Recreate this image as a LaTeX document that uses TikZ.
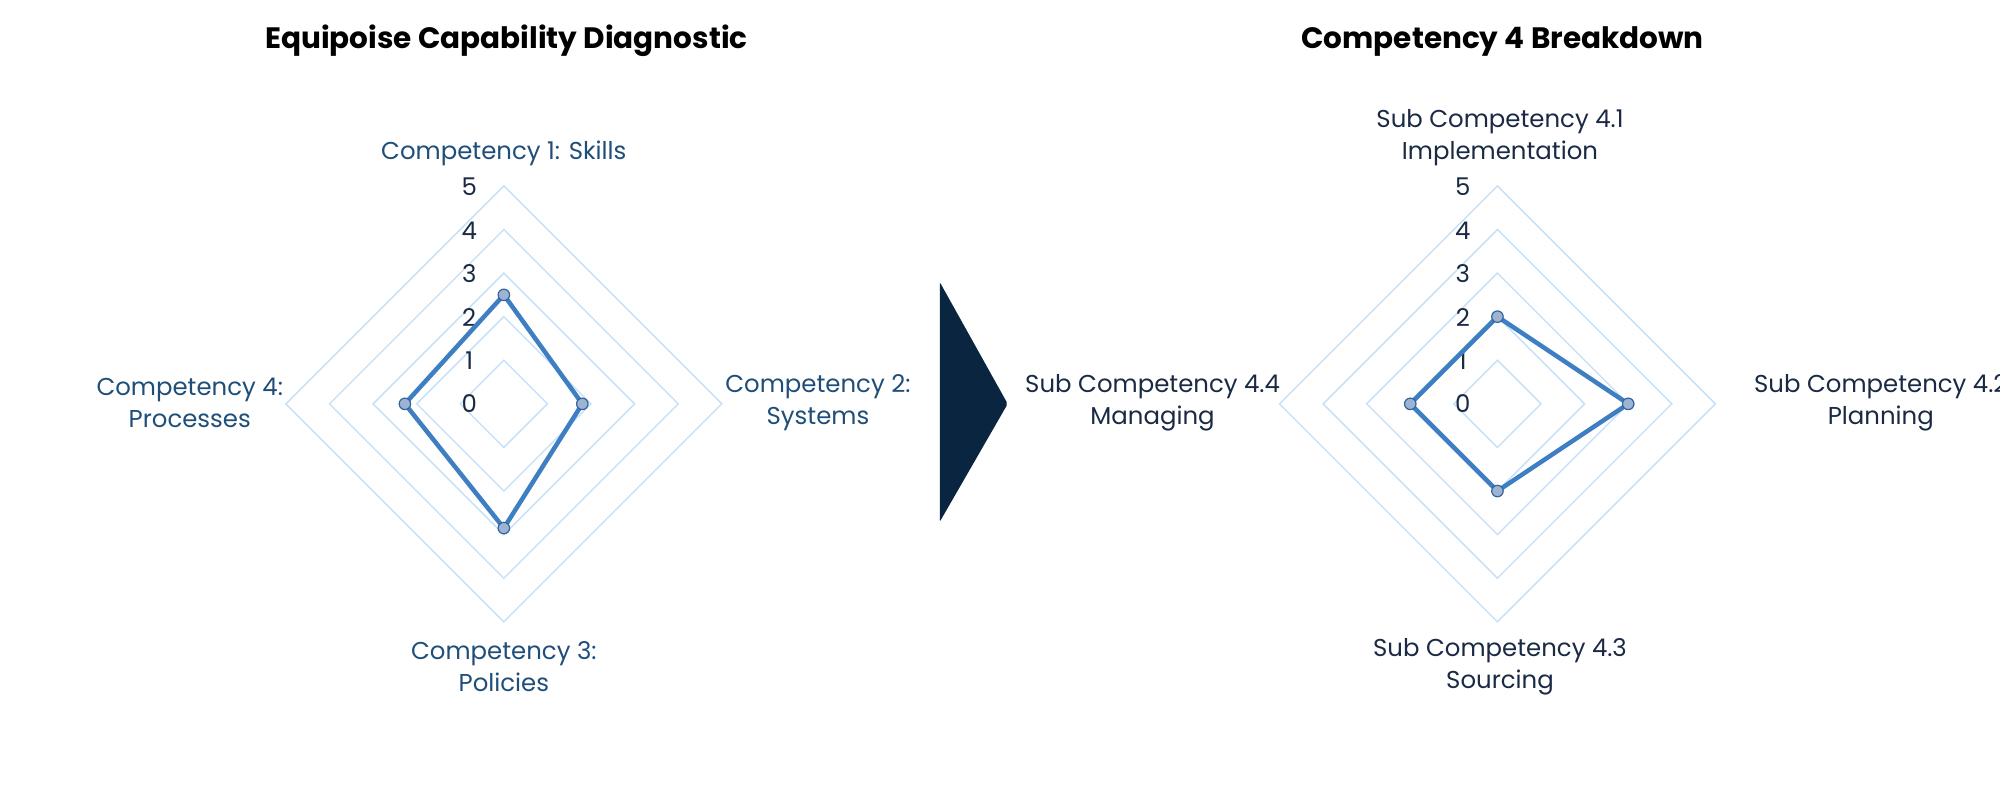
\documentclass[tikz,border=0pt]{standalone}
\usepackage{fontspec}
\setmainfont{Poppins}
\definecolor{gridc}{HTML}{C9E1F7}
\definecolor{datac}{HTML}{3E7EC2}
\definecolor{mk}{HTML}{9DB3D4}
\definecolor{lblA}{HTML}{1F4E79}
\definecolor{lblB}{HTML}{1A2A44}
\definecolor{navy}{HTML}{0A2540}
\tikzset{
 grid/.style={draw=gridc,line width=1.5pt},
 dataline/.style={draw=datac,line width=4.5pt,line join=round},
 dotmark/.style={circle,draw=datac!80!black,fill=mk,line width=1.2pt,inner sep=0pt,minimum size=11.5pt},
 lbl/.style={font=\fontsize{24.4}{32}\selectfont,align=center},
 tick/.style={font=\fontsize{24.4}{28}\selectfont,text=lblB},
 ttl/.style={font=\fontsize{29.5}{35}\selectfont\bfseries}
}
\newcommand{\radar}[7]{%
 \foreach \r in {1,...,5}{
  \draw[grid] (#1,#2-\r*34) -- (#1+\r*34,#2) -- (#1,#2+\r*34) -- (#1-\r*34,#2) -- cycle;}
 \foreach \r in {0,...,5}{
  \node[tick] (#7t\r) at (#1-27,#2-\r*33.8) {\r};}
 \coordinate (#7a) at (#1,#2-#3*34);
 \coordinate (#7b) at (#1+#4*34,#2);
 \coordinate (#7c) at (#1,#2+#5*34);
 \coordinate (#7d) at (#1-#6*34,#2);
 \draw[dataline] (#7a) -- (#7b) -- (#7c) -- (#7d) -- cycle;
 \foreach \p in {a,b,c,d}{\node[dotmark] (#7m\p) at (#7\p) {};}
}
\begin{document}
\begin{tikzpicture}[x=1.282pt,y=-1.282pt]
\useasboundingbox (0,0) rectangle (1560,625);
\node[ttl] (t1) at (395,32) {Equipoise Capability Diagnostic};
\node[ttl] (t2) at (1172,32) {Competency 4 Breakdown};
\radar{393}{315}{2.5}{1.8}{2.85}{2.27}{L}
\radar{1168}{315}{2}{3}{2}{2}{R}
\node[lbl,text=lblA] (l1) at (393,120) {Competency 1: Skills};
\node[lbl,text=lblA] (l2) at (638,314) {Competency 2:\\Systems};
\node[lbl,text=lblA] (l3) at (393,520) {Competency 3:\\Policies};
\node[lbl,text=lblA] (l4) at (148,314) {Competency 4:\\Processes};
\node[lbl,text=lblB] (r1) at (1170,107) {Sub Competency 4.1\\Implementation};
\node[lbl,text=lblB] (r2) at (1467,314) {Sub Competency 4.2\\Planning};
\node[lbl,text=lblB] (r3) at (1170,520) {Sub Competency 4.3\\Sourcing};
\node[lbl,text=lblB] (r4) at (899,314) {Sub Competency 4.4\\Managing};
\fill[navy,rounded corners=2pt] (733,220) -- (786,315) -- (733,407) -- cycle;
\end{tikzpicture}
\end{document}
